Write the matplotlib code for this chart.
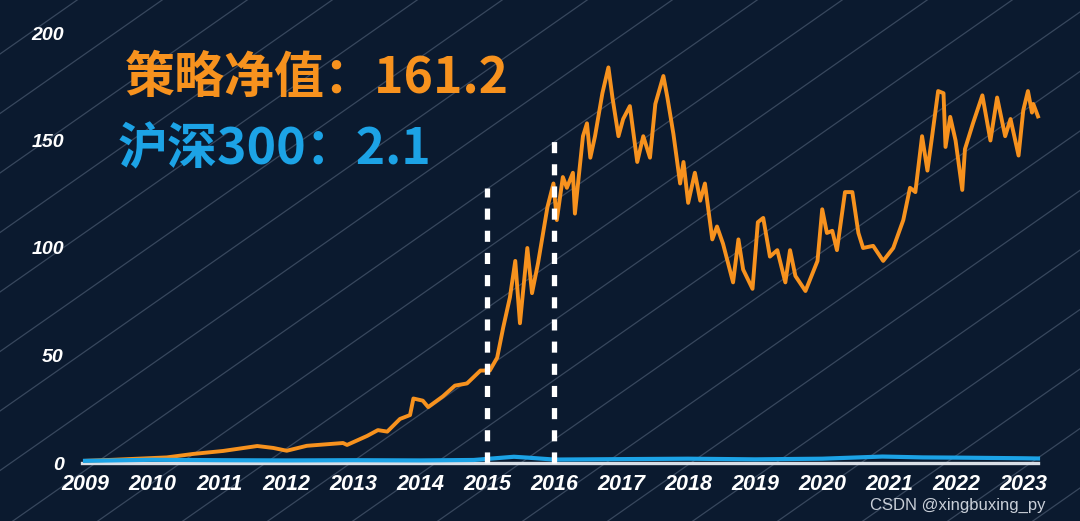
import matplotlib
matplotlib.use("Agg")
import matplotlib.pyplot as plt

# strategy net value (decimal year, value)
years = [2009.0, 2009.42, 2010.22, 2010.61, 2011.06, 2011.57, 2011.81, 2012.01, 2012.31,
         2012.85, 2012.91, 2013.21, 2013.37, 2013.51, 2013.70, 2013.85, 2013.90, 2014.04,
         2014.12, 2014.34, 2014.52, 2014.70, 2014.90, 2015.04, 2015.15, 2015.24, 2015.34,
         2015.42, 2015.49, 2015.60, 2015.67, 2015.76, 2015.90, 2015.99, 2016.04, 2016.13,
         2016.19, 2016.28, 2016.31, 2016.43, 2016.49, 2016.54, 2016.61, 2016.72, 2016.81,
         2016.87, 2016.96, 2017.03, 2017.13, 2017.24, 2017.33, 2017.43, 2017.51, 2017.63,
         2017.69, 2017.78, 2017.88, 2017.93, 2018.00, 2018.10, 2018.18, 2018.25, 2018.36,
         2018.43, 2018.52, 2018.67, 2018.75, 2018.82, 2018.96, 2019.04, 2019.12, 2019.22,
         2019.33, 2019.45, 2019.52, 2019.60, 2019.75, 2019.93, 2020.00, 2020.07, 2020.15,
         2020.22, 2020.34, 2020.45, 2020.54, 2020.61, 2020.76, 2020.91, 2021.06, 2021.21,
         2021.31, 2021.39, 2021.49, 2021.57, 2021.64, 2021.73, 2021.81, 2021.84, 2021.91,
         2021.99, 2022.09, 2022.13, 2022.25, 2022.39, 2022.51, 2022.61, 2022.73, 2022.81,
         2022.93, 2023.00, 2023.07, 2023.13, 2023.15, 2023.22]
strategy = [1.0, 1.5, 2.6, 4.2, 5.6, 7.9, 7.0, 5.7, 8.0,
            9.3, 8.4, 12.6, 15.3, 14.6, 20.5, 22.3, 30, 29,
            26, 31, 36, 37, 43, 43, 49, 63, 77,
            94, 65, 100, 79, 93, 119, 130, 113, 133,
            128, 135, 116, 152, 158, 142, 152, 172, 184,
            170, 152, 160, 166, 140, 152, 142, 167, 180,
            170, 153, 130, 140, 121, 135, 122, 130, 104,
            110, 102, 84, 104, 90, 81, 112, 114, 96,
            99, 84, 99, 87, 80, 94, 118, 107, 108,
            99, 126, 126, 107, 100, 101, 94, 100, 113,
            128, 126, 152, 136, 152, 173, 172, 147, 161,
            150, 127, 146, 158, 171, 150, 170, 152, 160,
            143, 164, 173, 163, 167, 161.2]

# CSI 300 (same scale)
hs_years = [2009.0, 2010.0, 2011.0, 2012.0, 2013.0, 2014.0, 2014.8, 2015.4, 2015.6,
            2016.0, 2017.0, 2018.0, 2019.0, 2020.0, 2020.9, 2021.5, 2022.0, 2023.0, 2023.22]
hs300 = [1.0, 1.5, 1.3, 1.2, 1.3, 1.2, 1.4, 2.9, 2.5,
         1.6, 1.8, 2.0, 1.7, 2.0, 3.0, 2.6, 2.5, 2.2, 2.1]

marks = [2015, 2016]
mark_tops = [128, 153]

yticks = [0, 50, 100, 150, 200]
xticks = list(range(2009, 2024))

bg = "#0b1a2f"
orange = "#f7921e"
blue = "#1ca3e6"
W, H = 1080, 521

fig = plt.figure(figsize=(W / 100, H / 100), dpi=100, facecolor=bg)

# background with faint diagonal stripes
bgax = fig.add_axes([0, 0, 1, 1])
bgax.set_xlim(0, W)
bgax.set_ylim(H, 0)
bgax.axis("off")
bgax.set_facecolor(bg)
slope = 0.70
for k in range(-12, 20):
    x0 = 615 + 85 * k
    xs = [x0 - 900, x0 + 900]
    ys = [40 + slope * 900, 40 - slope * 900]
    bgax.plot(xs, ys, color="#9fb0c8", lw=0.9, alpha=0.3)

ax = fig.add_axes([82 / W, 1 - 463 / H, (1038 - 82) / W, (463 - 33) / H])
ax.set_facecolor("none")
ax.set_xlim(2008.955, 2023.22)
ax.set_ylim(0, 200)

ax.plot(years, strategy, color=orange, lw=2.8, zorder=3, clip_on=False)
ax.plot(hs_years, hs300, color=blue, lw=3.0, zorder=4, clip_on=False)
ax.axhline(0, color="#d8dee6", lw=2.4, zorder=2, clip_on=False)

for m, top in zip(marks, mark_tops):
    ax.plot([m, m], [0, top], color="white", lw=3.8, linestyle=(0, (2.1, 2.1)),
            dash_capstyle="butt", solid_capstyle="butt", zorder=5, clip_on=False)

for s in ax.spines.values():
    s.set_visible(False)
ax.set_xticks(xticks)
ax.set_yticks(yticks)
tick_font = dict(family=["Liberation Sans", "DejaVu Sans"], weight="bold",
                 style="italic", color="white")
ax.set_xticklabels([str(x) for x in xticks], fontsize=15.5, **tick_font)
ax.set_yticklabels([str(y) for y in yticks], fontsize=14, **tick_font)
ax.tick_params(axis="both", length=0)
ax.tick_params(axis="x", pad=8)
ax.tick_params(axis="y", pad=13)

cjk = ["Noto Sans CJK SC", "DejaVu Sans"]
fig.text(125 / W, 1 - 78 / H, "策略净值：161.2", color=orange, fontsize=36,
         fontweight="bold", family=cjk, va="center", ha="left")
fig.text(118 / W, 1 - 150 / H, "沪深300：2.1", color=blue, fontsize=36,
         fontweight="bold", family=cjk, va="center", ha="left")

fig.text(1046 / W, 1 - 505 / H, "CSDN @xingbuxing_py", color="#c9cfd8", fontsize=12,
         family=["Liberation Sans", "DejaVu Sans"], ha="right", va="center")

fig.savefig("out.png", dpi=100, facecolor=bg)
